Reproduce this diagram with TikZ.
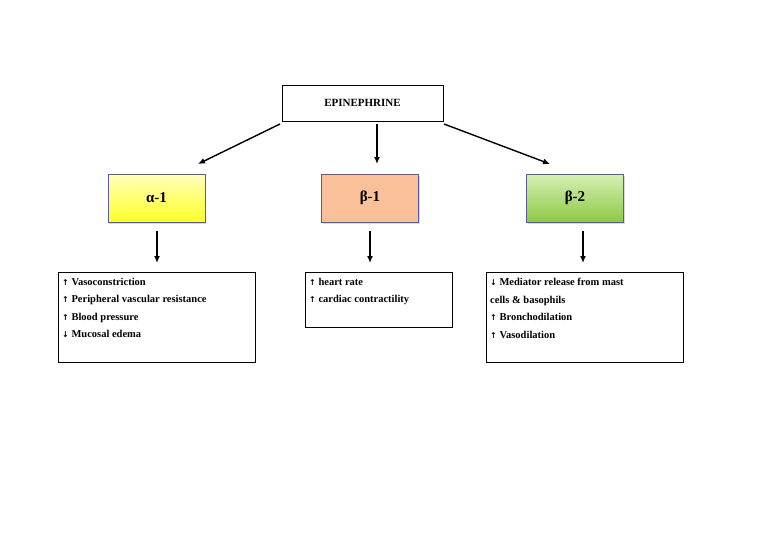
\documentclass[tikz,border=0pt]{standalone}
\usepackage{fontspec}
\setmainfont{Liberation Serif}
\newfontfamily\symf{DejaVu Sans}
\usetikzlibrary{shadows,arrows.meta}
\newcommand{\up}{{\symf\bfseries\footnotesize ↑}}
\newcommand{\dn}{{\symf\bfseries\footnotesize ↓}}
\begin{document}
\begin{tikzpicture}[x=1pt,y=-1pt,
 rec/.style={draw=blue!30!gray,line width=0.6pt,minimum width=97pt,minimum height=48pt,drop shadow={shadow xshift=1pt,shadow yshift=-1.5pt,opacity=0.3},font=\bfseries\fontsize{15}{16}\selectfont},
 lst/.style={draw,line width=0.6pt,anchor=north west,inner sep=0pt},
 txt/.style={anchor=north west,align=left,inner xsep=4pt,inner ysep=6pt,font=\bfseries\fontsize{10.5}{17.5}\selectfont},
 arr/.style={-{Latex[length=7pt,width=6pt]},line width=1.4pt}]
\useasboundingbox (0,0) rectangle (768,543);
\node[draw,line width=0.5pt,minimum width=161pt,minimum height=36pt,font=\bfseries\fontsize{11}{12}\selectfont] (epi) at (362.5,103) {EPINEPHRINE};
\node[rec,top color=yellow!25,bottom color=yellow!85] (a1) at (156.5,198) {α-1};
\node[rec,fill={rgb,255:red,249;green,192;blue,154}] (b1) at (370,198) {β-1};
\node[rec,top color={rgb,255:red,215;green,240;blue,180},bottom color={rgb,255:red,140;green,200;blue,70}] (b2) at (575,198) {β-2};
\coordinate (e1) at (280,124); \coordinate (t1) at (198,164);
\coordinate (e2) at (377,124); \coordinate (t2) at (377,164);
\coordinate (e3) at (444,124); \coordinate (t3) at (550,164);
\draw[arr] (e1) -- (t1);
\draw[arr] (e2) -- (t2);
\draw[arr] (e3) -- (t3);
\node[lst,minimum width=197pt,minimum height=90pt] (l1) at (58,272) {};
\node[txt] at (l1.north west) {\up\ Vasoconstriction\\ \up\ Peripheral vascular resistance\\ \up\ Blood pressure\\ \dn\ Mucosal edema};
\node[lst,minimum width=147pt,minimum height=55pt] (l2) at (305,272) {};
\node[txt] at (l2.north west) {\up\ heart rate\\ \up\ cardiac contractility};
\node[lst,minimum width=197pt,minimum height=90pt] (l3) at (486,272) {};
\node[txt] at (l3.north west) {\dn\ Mediator release from mast\\ cells \& basophils\\ \up\ Bronchodilation\\ \up\ Vasodilation};
\coordinate (d1) at (157,231); \coordinate (f1) at (157,263);
\coordinate (d2) at (370,231); \coordinate (f2) at (370,263);
\coordinate (d3) at (583,231); \coordinate (f3) at (583,263);
\draw[arr] (d1) -- (f1);
\draw[arr] (d2) -- (f2);
\draw[arr] (d3) -- (f3);
\end{tikzpicture}
\end{document}
